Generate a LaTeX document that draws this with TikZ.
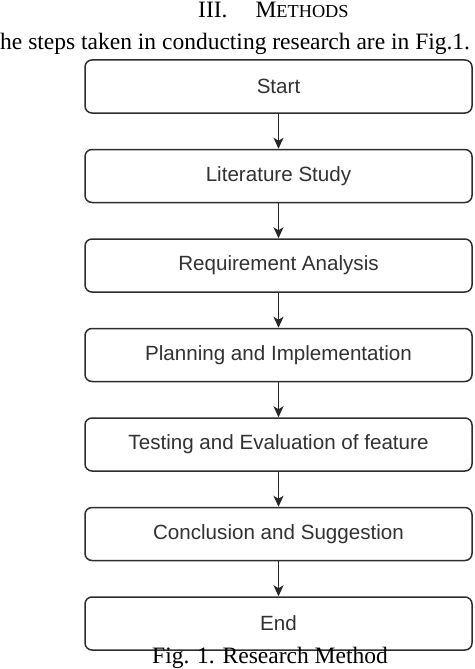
\documentclass[tikz,border=0pt]{standalone}
\usepackage{fontspec}
\setmainfont{Liberation Serif}
\setsansfont{Liberation Sans}
\usepackage{tikz}
\usetikzlibrary{positioning,arrows.meta}
\definecolor{BoxLine}{RGB}{45,45,45}
\definecolor{BoxText}{RGB}{50,50,50}
\tikzset{
  stepbox/.style={draw=BoxLine,fill=white,line width=1.5pt,rounded corners=7pt,
    minimum width=387pt,minimum height=53pt,inner sep=0pt,
    font=\sffamily\fontsize{20.6}{24}\selectfont,text=BoxText},
  flowarrow/.style={draw=black!85,line width=1.2pt,
    -{Stealth[length=11pt,width=10pt,inset=3pt]}},
  bodytext/.style={inner sep=0pt,font=\fontsize{23.5}{28}\selectfont},
}

\begin{document}
\begin{tikzpicture}[x=1pt,y=-1pt,node distance=35pt]
    \useasboundingbox (0,0) rectangle (474,669);
    \node[bodytext,anchor=base west] (head) at (198,18)
      {III.\hspace{28pt}M{\fontsize{18.3}{22}\selectfont ETHODS}};
    \node[bodytext,anchor=base west] (intro) at (0,50)
      {he steps taken in conducting research are in Fig.1.};
    \node[stepbox] (start) at (278.5,86.5) {Start};
    \node[stepbox,below=of start] (lit) {Literature Study};
    \node[stepbox,below=of lit] (req) {Requirement Analysis};
    \node[stepbox,below=of req] (plan) {Planning and Implementation};
    \node[stepbox,below=of plan] (test) {Testing and Evaluation of feature};
    \node[stepbox,below=of test] (concl) {Conclusion and Suggestion};
    \node[stepbox,below=of concl] (finish) {End};
    \foreach \a/\b in {start/lit,lit/req,req/plan,plan/test,test/concl,concl/finish} {\draw[flowarrow] (\a)--(\b);}
    \node[bodytext,anchor=base] (cap) at (270,663) {Fig. 1. Research Method};
  \end{tikzpicture}
\end{document}
